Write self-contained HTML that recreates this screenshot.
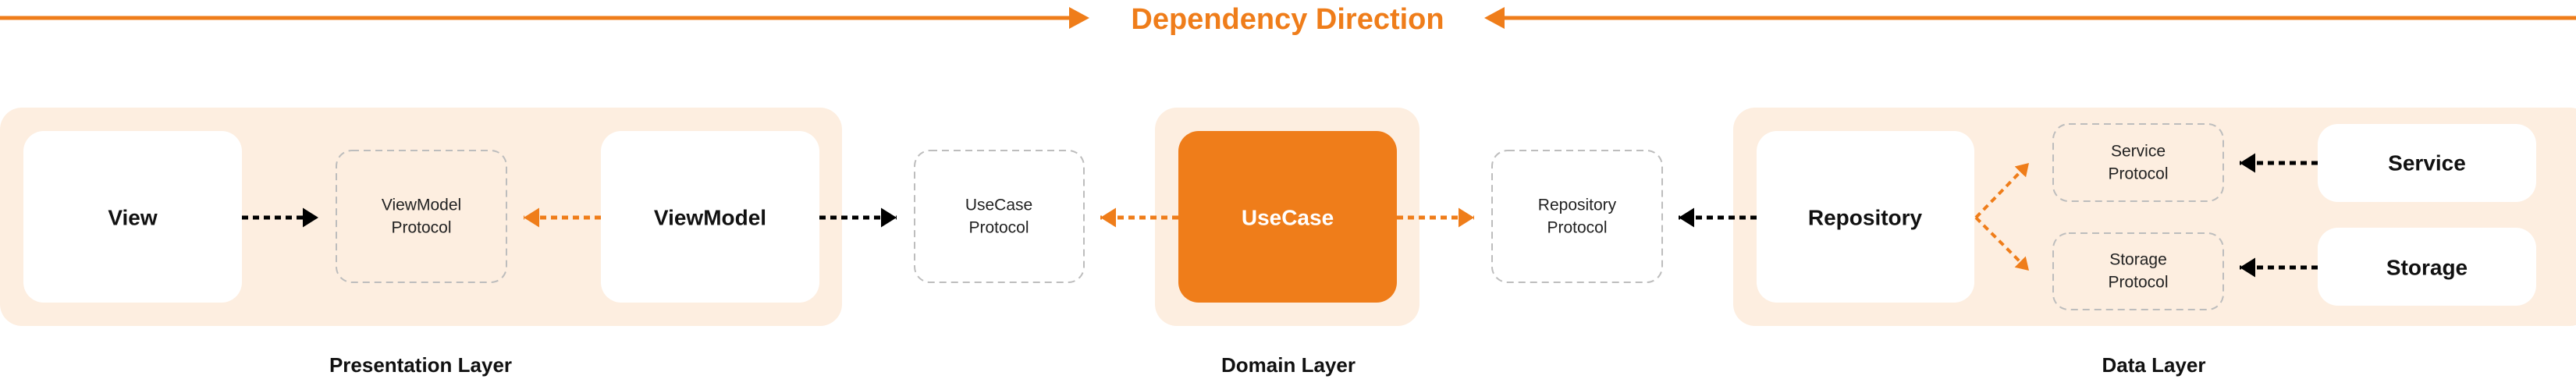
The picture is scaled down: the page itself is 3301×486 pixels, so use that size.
<!DOCTYPE html>
<html><head><meta charset="utf-8"><style>
html,body{margin:0;padding:0;background:#fff}
svg{display:block}
text{font-family:"Liberation Sans",Arial,sans-serif;text-anchor:middle;dominant-baseline:central}
.b{font-weight:bold;font-size:28px;fill:#111}
.p{font-size:21px;fill:#222}
.l{font-weight:bold;font-size:26px;fill:#111}
</style></head><body>
<svg width="3301" height="486" viewBox="0 0 3301 486" xmlns="http://www.w3.org/2000/svg">
<defs>
<marker id="ab" markerWidth="4" markerHeight="5" refX="4" refY="2.5" orient="auto" markerUnits="strokeWidth"><path d="M0,0 L4,2.5 L0,5 Z" fill="#000"/></marker>
<marker id="ao" markerWidth="4" markerHeight="5" refX="4" refY="2.5" orient="auto" markerUnits="strokeWidth"><path d="M0,0 L4,2.5 L0,5 Z" fill="#EF7D1A"/></marker>
</defs>
<!-- top direction -->
<line x1="0" y1="23" x2="1375" y2="23" stroke="#EF7D1A" stroke-width="5"/>
<path d="M1370,9 L1396,23 L1370,37 Z" fill="#EF7D1A"/>
<text x="1650" y="25" style="font-weight:bold;font-size:38px;fill:#EF7D1A">Dependency Direction</text>
<line x1="1925" y1="23" x2="3301" y2="23" stroke="#EF7D1A" stroke-width="5"/>
<path d="M1928,9 L1902,23 L1928,37 Z" fill="#EF7D1A"/>
<!-- layers -->
<rect x="0" y="138" width="1079" height="280" rx="28" fill="#FDEEE0"/>
<rect x="1480" y="138" width="339" height="280" rx="28" fill="#FDEEE0"/>
<rect x="2221" y="138" width="1100" height="280" rx="28" fill="#FDEEE0"/>
<!-- presentation -->
<rect x="30" y="168" width="280" height="220" rx="26" fill="#fff"/>
<text class="b" x="170" y="279">View</text>
<rect x="431" y="193" width="218" height="169" rx="20" fill="none" stroke="#BDBDBD" stroke-width="2" stroke-dasharray="9 6"/>
<text class="p" x="540" y="263">ViewModel</text><text class="p" x="540" y="292">Protocol</text>
<rect x="770" y="168" width="280" height="220" rx="26" fill="#fff"/>
<text class="b" x="910" y="279">ViewModel</text>
<line x1="310" y1="279" x2="408" y2="279" stroke="#000" stroke-width="5" stroke-dasharray="8 6" marker-end="url(#ab)"/>
<line x1="770" y1="279" x2="671" y2="279" stroke="#EF7D1A" stroke-width="5" stroke-dasharray="8 6" marker-end="url(#ao)"/>
<line x1="1050" y1="279" x2="1149" y2="279" stroke="#000" stroke-width="5" stroke-dasharray="8 6" marker-end="url(#ab)"/>
<!-- domain -->
<rect x="1172" y="193" width="217" height="169" rx="20" fill="none" stroke="#BDBDBD" stroke-width="2" stroke-dasharray="9 6"/>
<text class="p" x="1280" y="263">UseCase</text><text class="p" x="1280" y="292">Protocol</text>
<rect x="1510" y="168" width="280" height="220" rx="26" fill="#EF7D1A"/>
<text class="b" x="1650" y="279" style="fill:#fff">UseCase</text>
<line x1="1510" y1="279" x2="1410" y2="279" stroke="#EF7D1A" stroke-width="5" stroke-dasharray="8 6" marker-end="url(#ao)"/>
<line x1="1790" y1="279" x2="1889" y2="279" stroke="#EF7D1A" stroke-width="5" stroke-dasharray="8 6" marker-end="url(#ao)"/>
<rect x="1912" y="193" width="218" height="169" rx="20" fill="none" stroke="#BDBDBD" stroke-width="2" stroke-dasharray="9 6"/>
<text class="p" x="2021" y="263">Repository</text><text class="p" x="2021" y="292">Protocol</text>
<line x1="2251" y1="279" x2="2151" y2="279" stroke="#000" stroke-width="5" stroke-dasharray="8 6" marker-end="url(#ab)"/>
<!-- data -->
<rect x="2251" y="168" width="279" height="220" rx="26" fill="#fff"/>
<text class="b" x="2390" y="279">Repository</text>
<rect x="2631" y="159" width="218" height="99" rx="20" fill="none" stroke="#BDBDBD" stroke-width="2" stroke-dasharray="9 6"/>
<text class="p" x="2740" y="194">Service</text><text class="p" x="2740" y="223">Protocol</text>
<rect x="2631" y="299" width="218" height="98" rx="20" fill="none" stroke="#BDBDBD" stroke-width="2" stroke-dasharray="9 6"/>
<text class="p" x="2740" y="333">Storage</text><text class="p" x="2740" y="362">Protocol</text>
<rect x="2970" y="159" width="280" height="100" rx="26" fill="#fff"/>
<text class="b" x="3110" y="209">Service</text>
<rect x="2970" y="292" width="280" height="100" rx="26" fill="#fff"/>
<text class="b" x="3110" y="343">Storage</text>
<line x1="2970" y1="209" x2="2870" y2="209" stroke="#000" stroke-width="5" stroke-dasharray="8 6" marker-end="url(#ab)"/>
<line x1="2970" y1="343" x2="2870" y2="343" stroke="#000" stroke-width="5" stroke-dasharray="8 6" marker-end="url(#ab)"/>
<line x1="2532" y1="279" x2="2600" y2="209" stroke="#EF7D1A" stroke-width="4" stroke-dasharray="8 6" marker-end="url(#ao)"/>
<line x1="2532" y1="279" x2="2600" y2="347" stroke="#EF7D1A" stroke-width="4" stroke-dasharray="8 6" marker-end="url(#ao)"/>
<!-- labels -->
<text class="l" x="539" y="468">Presentation Layer</text>
<text class="l" x="1651" y="468">Domain Layer</text>
<text class="l" x="2760" y="468">Data Layer</text>
</svg>
</body></html>
